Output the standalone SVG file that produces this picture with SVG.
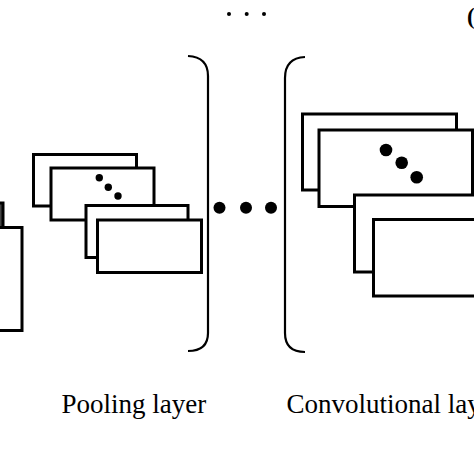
<svg xmlns="http://www.w3.org/2000/svg" width="474" height="474" viewBox="0 0 474 474">
<style>
.fm{fill:#fff;stroke:#000;stroke-width:3}
.br{fill:none;stroke:#000;stroke-width:2.2}
.dot{fill:#000}
.lbl{font-family:"Liberation Serif","Times New Roman",serif;font-size:27px;fill:#000}
</style>
<rect width="474" height="474" fill="#fff"/>
<g id="top-dots">
<circle class="dot" cx="229" cy="14" r="2"/>
<circle class="dot" cx="246.7" cy="14" r="2"/>
<circle class="dot" cx="264" cy="14" r="2"/>
</g>
<text class="lbl" x="467" y="24" style="font-weight:bold;font-size:23px">(</text>
<g id="input-maps">
<rect class="fm" x="-10" y="203" width="13" height="40" style="fill:#444"/>
<rect class="fm" x="-10" y="227.5" width="32" height="103"/>
</g>
<g id="pooling-layer">
<rect class="fm" x="33.5" y="154.5" width="103" height="51.5"/>
<rect class="fm" x="51" y="168" width="103" height="52"/>
<circle class="dot" cx="99.3" cy="177.7" r="3.7"/>
<circle class="dot" cx="108.3" cy="187.3" r="3.7"/>
<circle class="dot" cx="118" cy="196" r="3.7"/>
<rect class="fm" x="86" y="205.5" width="102" height="52"/>
<rect class="fm" x="97.5" y="220" width="104" height="52.5"/>
</g>
<g id="connectors">
<path class="br" d="M188,56 Q208,57 208,76 L208,333 Q208,351 188,351"/>
<path class="br" d="M305,57 Q285,58 285,78 L285,333 Q285,352 305,352"/>
<circle class="dot" cx="219.5" cy="207.7" r="6"/>
<circle class="dot" cx="246" cy="207.7" r="6"/>
<circle class="dot" cx="271" cy="207.7" r="6"/>
</g>
<g id="convolutional-layer">
<rect class="fm" x="302.5" y="114" width="154" height="76"/>
<rect class="fm" x="319" y="130" width="153.5" height="76.5"/>
<circle class="dot" cx="386" cy="150" r="6.3"/>
<circle class="dot" cx="401.7" cy="162.7" r="6.3"/>
<circle class="dot" cx="416.7" cy="177.3" r="6.3"/>
<rect class="fm" x="354.5" y="195" width="130" height="77"/>
<rect class="fm" x="373.5" y="219.5" width="120" height="76.5"/>
</g>
<g id="labels">
<text class="lbl" x="61.5" y="412.7">Pooling layer</text>
<text class="lbl" x="286.5" y="412.7">Convolutional layer</text>
</g>
</svg>
